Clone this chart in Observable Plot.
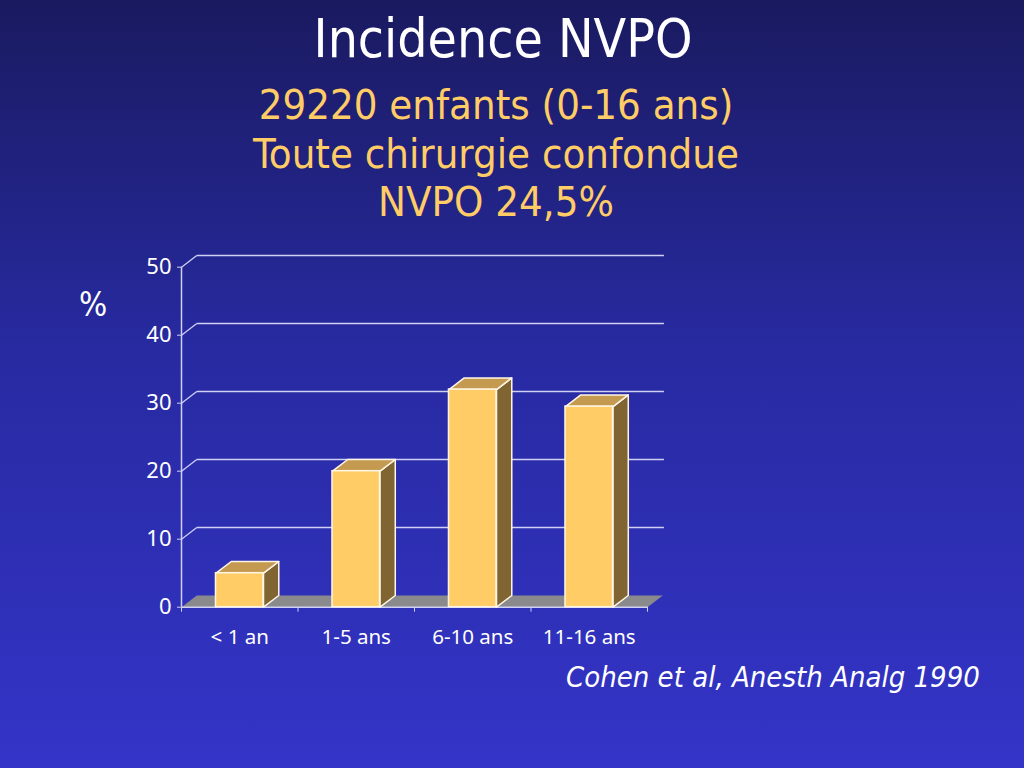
<!DOCTYPE html>
<html>
<head>
<meta charset="utf-8">
<script src="https://cdn.jsdelivr.net/npm/d3@7"></script>
<script src="https://cdn.jsdelivr.net/npm/@observablehq/plot@0.6"></script>
<style>
  html, body { margin: 0; padding: 0; }
  body {
    width: 1024px; height: 768px; overflow: hidden; position: relative;
    background: linear-gradient(to bottom, #1a1a60 0%, #272aa0 45%, #3434c8 100%);
    font-family: "DejaVu Sans Condensed", "DejaVu Sans", sans-serif;
  }
  .t { position: absolute; left: 0; width: 1024px; text-align: center; white-space: nowrap; }
  #title { top: 8px; left: 0; font-size: 53px; color: #ffffff; width: 1006px; }
  #sub { top: 81px; left: 0; width: 992px; font-size: 41.5px; color: #ffcc66; line-height: 48.5px; }
  #pct { position: absolute; left: 79px; top: 285px; font-size: 33px; color: #fff; }
  #cite { position: absolute; left: 566px; top: 660px; font-size: 29px; font-style: italic; color: #fff; white-space: nowrap; }
  #chart { position: absolute; left: 0; top: 240px; }
</style>
</head>
<body>
<div id="title" class="t">Incidence NVPO</div>
<div id="sub" class="t">29220 enfants (0-16 ans)<br>Toute chirurgie confondue<br>NVPO 24,5%</div>
<div id="pct">%</div>
<div id="chart"></div>
<div id="cite">Cohen et al, Anesth Analg 1990</div>
<script>
const categories = ["< 1 an", "1-5 ans", "6-10 ans", "11-16 ans"];
const values = [5, 20, 32, 29.5];
const yTicks = [0, 10, 20, 30, 40, 50];

// 3D depth (in data units) and bar half-width (fraction of band)
const DX = 0.131, DY = 1.72, HW = 0.204;
const N = categories.length;

const bars = categories.map((c, i) => ({ cat: c, i, v: values[i], c0: i + 0.5 }));
const poly = (id, pts) => pts.map(([x, y]) => ({ id, x, y }));
const tops = bars.flatMap(b => poly("t" + b.i, [
  [b.c0 - HW, b.v], [b.c0 + HW, b.v], [b.c0 + HW + DX, b.v + DY], [b.c0 - HW + DX, b.v + DY]
]));
const sides = bars.flatMap(b => poly("s" + b.i, [
  [b.c0 + HW, 0], [b.c0 + HW + DX, DY], [b.c0 + HW + DX, b.v + DY], [b.c0 + HW, b.v]
]));
const floor = poly("floor", [[0, 0], [N, 0], [N + DX, DY], [DX, DY]]);

const gridCol = "#cfd0f4";
const edge = "#fff6e6";

const chart = Plot.plot({
  width: 1024, height: 430,
  marginLeft: 181, marginRight: 377, marginTop: 26.7, marginBottom: 63.3,
  style: { background: "transparent", color: "#ffffff", overflow: "visible" },
  x: { type: "linear", domain: [0, N] },
  y: { type: "linear", domain: [0, 50] },
  marks: [
    // back wall gridlines
    Plot.link(yTicks.filter(t => t > 0), { x1: DX, x2: N + DX + 0.01, y1: t => t + DY, y2: t => t + DY, stroke: gridCol, strokeWidth: 1.5 }),
    // left wall diagonals
    Plot.link(yTicks.filter(t => t > 0), { x1: 0, x2: DX, y1: t => t, y2: t => t + DY, stroke: gridCol, strokeWidth: 1.3 }),
    // floor
    Plot.line(floor, { x: "x", y: "y", z: "id", fill: "#8a8a8c", stroke: "none", curve: "linear-closed" }),
    Plot.link([0], { x1: 0, x2: N, y1: 0, y2: 0, stroke: gridCol, strokeWidth: 1.5 }),
    // bars
    Plot.line(sides, { x: "x", y: "y", z: "id", fill: "#806432", stroke: edge, strokeWidth: 1.5, curve: "linear-closed" }),
    Plot.line(tops, { x: "x", y: "y", z: "id", fill: "#c49a50", stroke: edge, strokeWidth: 1.5, curve: "linear-closed" }),
    Plot.rect(bars, { x1: d => d.c0 - HW, x2: d => d.c0 + HW, y1: 0, y2: "v", fill: "#ffcc66", stroke: edge, strokeWidth: 1.5 }),
    // y axis
    Plot.axisY({ ticks: yTicks, tickSize: 4, tickPadding: 6, fontSize: 22, stroke: gridCol, fill: "#ffffff", label: null }),
    Plot.ruleX([0], { y1: 0, y2: 50, stroke: gridCol, strokeWidth: 1.5 }),
    // x axis
    Plot.axisX({ ticks: d3.range(0, N + 1), tickSize: 5, tickFormat: () => "", stroke: gridCol, label: null }),
    Plot.axisX({ ticks: bars.map(b => b.c0), tickSize: 0, tickPadding: 22, tickFormat: (d) => categories[Math.floor(d)], fontSize: 20.5, fill: "#ffffff", label: null })
  ]
});
document.getElementById("chart").appendChild(chart);
</script>
</body>
</html>
